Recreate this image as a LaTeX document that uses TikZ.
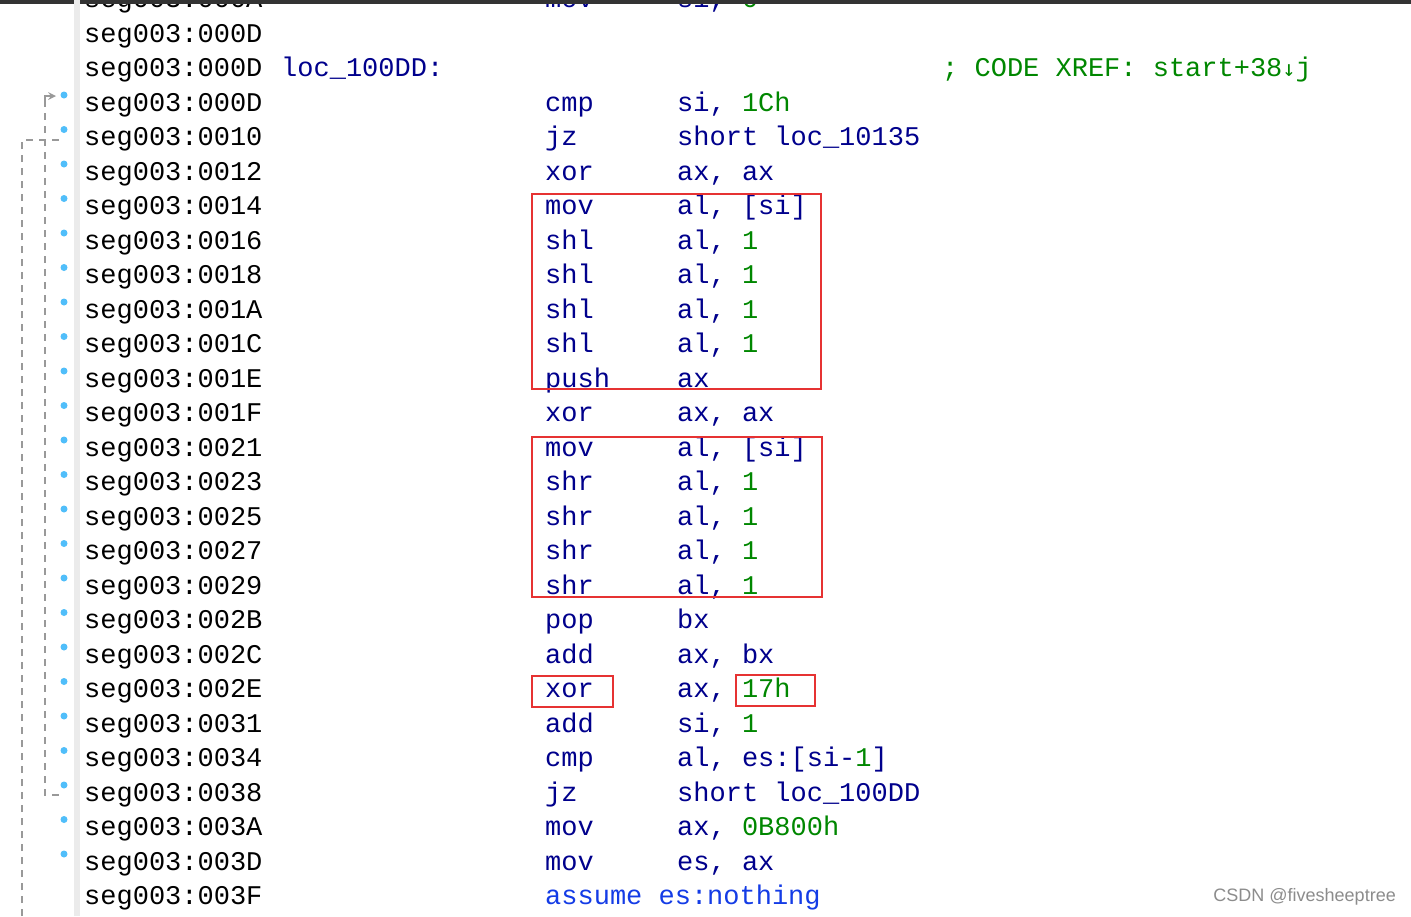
\documentclass[tikz,border=0pt]{standalone}
\usepackage{fontspec}
\setmonofont{Liberation Mono}
\setsansfont{Liberation Sans}
\begin{document}
\begin{tikzpicture}[x=1pt,y=-1pt,
  t/.style={anchor=base west,inner sep=0pt,font=\fontsize{27}{27}\ttfamily},
  ad/.style={t,text=black},
  mn/.style={t,text=navyc},
  rbox/.style={draw=redc,line width=2.8pt}]
\definecolor{navyc}{RGB}{0,0,140}
\definecolor{greenc}{RGB}{0,135,0}
\definecolor{redc}{RGB}{230,50,50}
\definecolor{dotc}{RGB}{80,190,250}
\definecolor{bluec}{RGB}{20,60,230}
\useasboundingbox (0,0) rectangle (1411,916);
\clip (0,0) rectangle (1411,916);
\fill[white] (0,0) rectangle (1411,916);
\newcommand\rowy[1]{42+34.5*#1}
\node[ad] (p) at (84,7) {seg003:000A};
\node[mn] (pm) at (545,7) {mov};
\node[mn] (po) at (677,7) {si, \textcolor{greenc}{0}};
\fill[black!80] (0,0) rectangle (1411,4);
\fill[black!8] (74,0) rectangle (80,916);
\draw[black!40,line width=2pt,dash pattern=on 7pt off 6pt] (45,100) -- (45,795) -- (60,795);
\draw[black!40,line width=2pt,dash pattern=on 7pt off 6pt] (22,916) -- (22,140) -- (60,140);
\draw[black!40,line width=2.4pt,-stealth] (45,100) -- (45,96) -- (56,96);
\foreach \i in {2,...,24} \fill[dotc] (64,{33+34.5*\i-7}) circle (3.5pt);
\foreach \i/\a in {0/000D,1/000D,2/000D,3/0010,4/0012,5/0014,6/0016,7/0018,8/001A,9/001C,10/001E,11/001F,12/0021,13/0023,14/0025,15/0027,16/0029,17/002B,18/002C,19/002E,20/0031,21/0034,22/0038,23/003A,24/003D,25/003F}
  \node[ad] (a\i) at (84,{\rowy{\i}}) {seg003:\a};
\node[mn] (lbl) at (281,{\rowy{1}}) {loc\_100DD:};
\node[t,text=greenc] (cm) at (942,{\rowy{1}}) {; CODE XREF: start+38{\fontspec{DejaVu Sans Mono}\fontsize{22}{22}\selectfont↓}j};
\foreach \i/\m/\o in {2/cmp/{si, \textcolor{greenc}{1Ch}},3/jz/{short loc\_10135},4/xor/{ax, ax},5/mov/{al, [si]},6/shl/{al, \textcolor{greenc}{1}},7/shl/{al, \textcolor{greenc}{1}},8/shl/{al, \textcolor{greenc}{1}},9/shl/{al, \textcolor{greenc}{1}},10/push/{ax},11/xor/{ax, ax},12/mov/{al, [si]},13/shr/{al, \textcolor{greenc}{1}},14/shr/{al, \textcolor{greenc}{1}},15/shr/{al, \textcolor{greenc}{1}},16/shr/{al, \textcolor{greenc}{1}},17/pop/{bx},18/add/{ax, bx},19/xor/{ax, \textcolor{greenc}{17h}},20/add/{si, \textcolor{greenc}{1}},21/cmp/{al, es:[si-\textcolor{greenc}{1}]},22/jz/{short loc\_100DD},23/mov/{ax, \textcolor{greenc}{0B800h}},24/mov/{es, ax}}
{ \node[mn] (m\i) at (545,{\rowy{\i}}) {\m};
  \node[mn] (o\i) at (677,{\rowy{\i}}) {\o}; }
\node[t,text=bluec] (m25) at (545,{\rowy{25}}) {assume es:nothing};
\draw[rbox] (532,194) rectangle (821,389);
\draw[rbox] (532,437) rectangle (822,597);
\draw[rbox] (532,676) rectangle (613,707);
\draw[rbox] (736,675) rectangle (815,706);
\node[anchor=east,inner sep=0pt,font=\sffamily\fontsize{18}{18}\selectfont,text=black!45] (wm) at (1396,897) {CSDN @fivesheeptree};
\end{tikzpicture}
\end{document}
